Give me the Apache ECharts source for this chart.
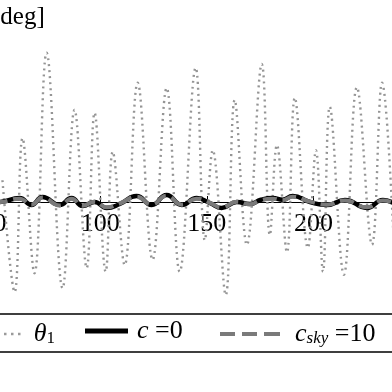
<!DOCTYPE html>
<html><head><meta charset="utf-8">
<script src="https://cdn.jsdelivr.net/npm/echarts@6/dist/echarts.min.js"></script>
<style>html,body{margin:0;padding:0;background:#fff}#c{width:392px;height:392px}</style>
</head><body><div id="c"></div>
<script>
// theta_1 extrema (time, deg)
const thetaX = [54.2,59.9,63.6,69.2,74.9,82.4,88.0,93.7,97.4,102.6,105.9,111.5,117.6,124.6,131.2,137.3,144.8,149.1,152.8,158.9,163.1,168.8,175.8,179.6,182.9,187.6,191.3,197.4,201.2,204.5,207.7,214.3,220.4,227.5,232.2,238.3];
const thetaY = [2.9,-12.0,8.5,-9.5,19.9,-11.5,12.3,-8.8,11.9,-9.3,6.7,-8.4,15.9,-7.7,15.2,-9.3,17.9,-5.1,6.9,-12.4,13.6,-5.7,18.4,-4.4,7.6,-6.7,13.9,-6.1,6.9,-9.3,12.7,-9.7,15.3,-5.7,15.9,-9.0];
// controlled responses
const cX    = [50.0,52.8,62.2,67.8,73.0,81.0,86.6,91.8,97.4,103.1,109.2,117.1,124.2,131.2,138.3,145.3,151.4,157.0,164.1,170.2,175.4,180.9,185.6,190.3,198.4,206.3,214.8,225.1,232.6,238.3];
const c0Y   = [0.0,0.0,0.53,-0.4,0.67,-0.4,0.53,-0.53,0.0,-0.8,-0.27,0.8,-0.4,0.93,-0.4,0.53,-0.13,-0.8,0.0,-0.27,0.3,0.53,0.3,0.8,0.0,-0.4,0.27,-0.8,0.27,-0.27];
const cskyY = [0.0,0.0,0.45,-0.35,0.6,-0.45,0.45,-0.5,0.05,-0.7,-0.2,0.7,-0.35,0.85,-0.35,0.45,-0.1,-0.75,0.05,-0.3,0.25,0.45,0.25,0.7,0.05,-0.35,0.2,-0.7,0.2,-0.2];
const xTicks = {min:50, max:250, interval:50};
const seriesNames = ['θ1','c=0','csky=10'];

const pair = (xs, ys) => xs.map((x,i)=>[x, ys[i]]);
const serif = 'Liberation Serif';
const dotPath = 'path://' + Array.from({length:6}, (_, i) => 'M' + (i*7) + ',0h2.5v2.5h-2.5z').join(' ');
const dashPath = 'path://M0,0h15v4h-15z M22,0h15v4h-15z M44,0h16v4h-16z';
const chart = echarts.init(document.getElementById('c'));
const legendBase = (name, icon, left, w, h, color, pad, fmt) => ({
  data:[{name:name, icon:icon, itemStyle:{color:color}}], left:left, top:313, itemWidth:w, itemHeight:h,
  formatter: fmt,
  textStyle:{fontFamily:serif, fontSize:26, color:'#000', padding:[0,0,0,pad],
    rich:{
      it:{fontFamily:serif, fontStyle:'italic', fontSize:26, color:'#000'},
      sub:{fontFamily:serif, fontSize:17, color:'#000', verticalAlign:'bottom', lineHeight:17, padding:[12,0,0,0]},
      subit:{fontFamily:serif, fontStyle:'italic', fontSize:17, color:'#000', verticalAlign:'bottom', lineHeight:17, padding:[12,0,0,0]}
    }}
});
chart.setOption({
  animation:false,
  grid:{left:-6.5, right:-28, top:14.5, bottom:77.5, containLabel:false, outerBoundsMode:'none'},
  xAxis:{type:'value', min:xTicks.min, max:xTicks.max, interval:xTicks.interval,
    offset:-112.5,
    axisLine:{onZero:false, lineStyle:{color:'#000', width:1}},
    axisTick:{inside:true, length:6, lineStyle:{color:'#000'}},
    axisLabel:{fontFamily:serif, fontSize:26, color:'#000', margin:9},
    splitLine:{show:false}},
  yAxis:{type:'value', min:-15, max:25, show:false},
  legend:[
    legendBase(seriesNames[0], dotPath, -22, 40, 2.5, '#9a9a9a', 7, ()=>'{it|θ}{sub|1}'),
    legendBase(seriesNames[1], 'rect', 80, 43, 5, '#000', 4, ()=>'{it|c} =0'),
    legendBase(seriesNames[2], dashPath, 215, 60, 4, '#7a7a7a', 10, ()=>'{it|c}{subit|sky} =10')
  ],
  graphic:[
    {type:'rect', shape:{x:-5, y:314, width:402, height:38}, style:{fill:'none', stroke:'#000', lineWidth:1.5}, silent:true},
    {type:'text', left:-8, top:5, style:{text:'[deg]', font:'25px "Liberation Serif"', fill:'#000'}}
  ],
  series:[
    {name:seriesNames[0], type:'line', data:pair(thetaX, thetaY), smooth:0.4, symbol:'none',
      lineStyle:{color:'#959595', width:2.4, type:[2,4]}, itemStyle:{color:'#959595'}, z:1},
    {name:seriesNames[1], type:'line', data:pair(cX, c0Y), smooth:0.5, symbol:'none',
      lineStyle:{color:'#000', width:4.5}, itemStyle:{color:'#000'}, z:3},
    {name:seriesNames[2], type:'line', data:pair(cX, cskyY), smooth:0.5, symbol:'none',
      lineStyle:{color:'#7a7a7a', width:4, type:[14,6]}, itemStyle:{color:'#7a7a7a'}, z:4}
  ]
});
</script></body></html>
